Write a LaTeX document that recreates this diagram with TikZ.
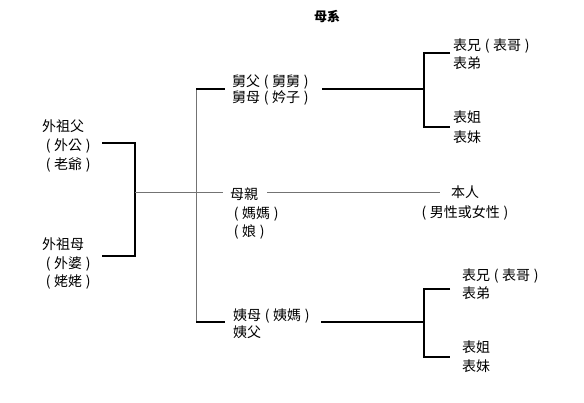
\documentclass[tikz,border=0pt]{standalone}
\usepackage{fontspec}
\newfontfamily\cjk{Noto Sans CJK TC}
\newcommand\lpar{\makebox[12pt]{(}}
\newcommand\rpar{\makebox[12pt]{)}}
\begin{document}
\begin{tikzpicture}[x=1pt,y=-1pt,
  lbl/.style={font=\cjk\fontsize{14}{#1}\selectfont, inner sep=0pt, align=left, anchor=west},
  lblc/.style={font=\cjk\fontsize{14}{#1}\selectfont, inner sep=0pt, align=center},
  bracket/.style={draw=black, line width=1.3pt},
  trunk/.style={draw=black!55, line width=1pt}]
\useasboundingbox (0,0) rectangle (584,403);
\node[font=\cjk\bfseries\fontsize{13}{15}\selectfont, inner sep=0pt] (title) at (327,17) {母系};
\node[lbl=19] (gf) at (42,146) {外祖父\\\lpar 外公\rpar\\\lpar 老爺\rpar};
\node[lbl=18.5] (gm) at (42,263.5) {外祖母\\\lpar 外婆\rpar\\\lpar 姥姥\rpar};
\node[lbl=14] (uncle) at (232,90) {舅父\lpar 舅舅\rpar\\舅母\lpar 妗子\rpar};
\node[lbl=18.5] (mother) at (230,214) {母親\\\lpar 媽媽\rpar\\\lpar 娘\rpar};
\node[lblc=20] (self) at (465,203) {本人\\\lpar 男性或女性\rpar};
\node[lbl=17] (aunt) at (233,323.5) {姨母\lpar 姨媽\rpar\\姨父};
\node[lbl=18] (c1a) at (453,54) {表兄\lpar 表哥\rpar\\表弟};
\node[lbl=20] (c1b) at (453,127) {表姐\\表妹};
\node[lbl=18] (c2a) at (462,284) {表兄\lpar 表哥\rpar\\表弟};
\node[lbl=19] (c2b) at (462,356.5) {表姐\\表妹};
% junctions
\coordinate (gfE) at (102,143);
\coordinate (gmE) at (102,256);
\coordinate (gJ) at (135,193);
\coordinate (mL) at (223,193);
\coordinate (mR) at (267,193);
\coordinate (sL) at (440,193);
\coordinate (tTop) at (196,89);
\coordinate (tBot) at (196,322);
\coordinate (uL) at (225,89);
\coordinate (uR) at (322,89);
\coordinate (uJ) at (424,89);
\coordinate (c1aL) at (450,53);
\coordinate (c1bL) at (450,127);
\coordinate (aL) at (225,322);
\coordinate (aR) at (321,322);
\coordinate (aJ) at (424,322);
\coordinate (c2aL) at (450,289);
\coordinate (c2bL) at (450,357);
% connectors
\draw[bracket] (gfE) -- (gfE -| gJ) -- (gmE -| gJ) -- (gmE);
\draw[trunk] (gJ) -- (mL);
\draw[trunk] (mR) -- (sL);
\draw[trunk] (tTop) -- (tBot);
\draw[bracket] (tTop) -- (uL);
\draw[bracket] (uR) -- (uJ);
\draw[bracket] (c1aL) -- (c1aL -| uJ) -- (c1bL -| uJ) -- (c1bL);
\draw[bracket] (tBot) -- (aL);
\draw[bracket] (aR) -- (aJ);
\draw[bracket] (c2aL) -- (c2aL -| aJ) -- (c2bL -| aJ) -- (c2bL);
\end{tikzpicture}
\end{document}
